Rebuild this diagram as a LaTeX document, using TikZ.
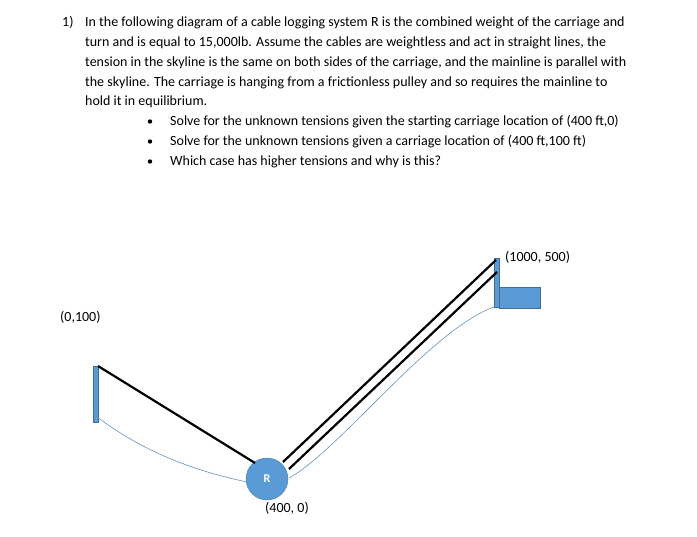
\documentclass[tikz,border=0pt]{standalone}
\usepackage{fontspec}
\setmainfont{Carlito}
\begin{document}
\begin{tikzpicture}[x=1pt,y=-1pt,
  txt/.style={anchor=base west,inner sep=0pt,font=\fontsize{14}{20}\selectfont},
  post/.style={fill=blue!55!cyan!70!black!60,draw=blue!50!black!70},
  cable/.style={line width=2.2pt,black},
  ground/.style={draw=blue!40!gray,line width=0.6pt}]
\definecolor{bl}{HTML}{5B9BD5}
\useasboundingbox (0,0) rectangle (697,537);
\node[txt] (n1) at (62,27) {1)};
\node[txt] (l1) at (85,27) {In the following diagram of a cable logging system R is the combined weight of the carriage and};
\node[txt] (l2) at (85,47) {turn and is equal to 15,000lb. Assume the cables are weightless and act in straight lines, the};
\node[txt] (l3) at (85,67) {tension in the skyline is the same on both sides of the carriage, and the mainline is parallel with};
\node[txt] (l4) at (85,87) {the skyline. The carriage is hanging from a frictionless pulley and so requires the mainline to};
\node[txt] (l5) at (85,106) {hold it in equilibrium.};
\foreach \y/\t [count=\i] in {126/{Solve for the unknown tensions given the starting carriage location of (400 ft,0)},146/{Solve for the unknown tensions given a carriage location of (400 ft,100 ft)},166/{Which case has higher tensions and why is this?}}{
  \fill (150,\y-4.5) circle (2.2pt);
  \node[txt] (b\i) at (170,\y) {\t};
}
% posts
\node[draw=bl!70!black,fill=bl,minimum width=5pt,minimum height=56pt,inner sep=0pt] (lp) at (95.5,394) {};
\node[draw=bl!70!black,fill=bl,minimum width=5pt,minimum height=49pt,inner sep=0pt] (rp) at (496.5,282.5) {};
\node[draw=bl!70!black,fill=bl,minimum width=41pt,minimum height=21pt,inner sep=0pt] (rb) at (519.5,297.5) {};
% ground
\draw[draw=bl!70!gray,line width=0.6pt] (93,414) .. controls (140,450) and (190,470) .. (247,482);
\draw[draw=bl!70!gray,line width=0.6pt] (289,478) .. controls (340,450) and (430,330) .. (494,307);
% cables
\node[circle,fill=bl,draw=bl!80!black,minimum size=42pt,inner sep=0pt,text=white,font=\bfseries\fontsize{12}{12}\selectfont] (R) at (267,479) {R};
\draw[cable] (98,366) -- (255,463);
\draw[cable] (283,462) -- (496,260);
\draw[cable] (289,469) -- (497,272);
\node[txt] at (505,262) {(1000, 500)};
\node[txt] at (60,322) {(0,100)};
\node[txt] at (265,513) {(400, 0)};
\end{tikzpicture}
\end{document}
